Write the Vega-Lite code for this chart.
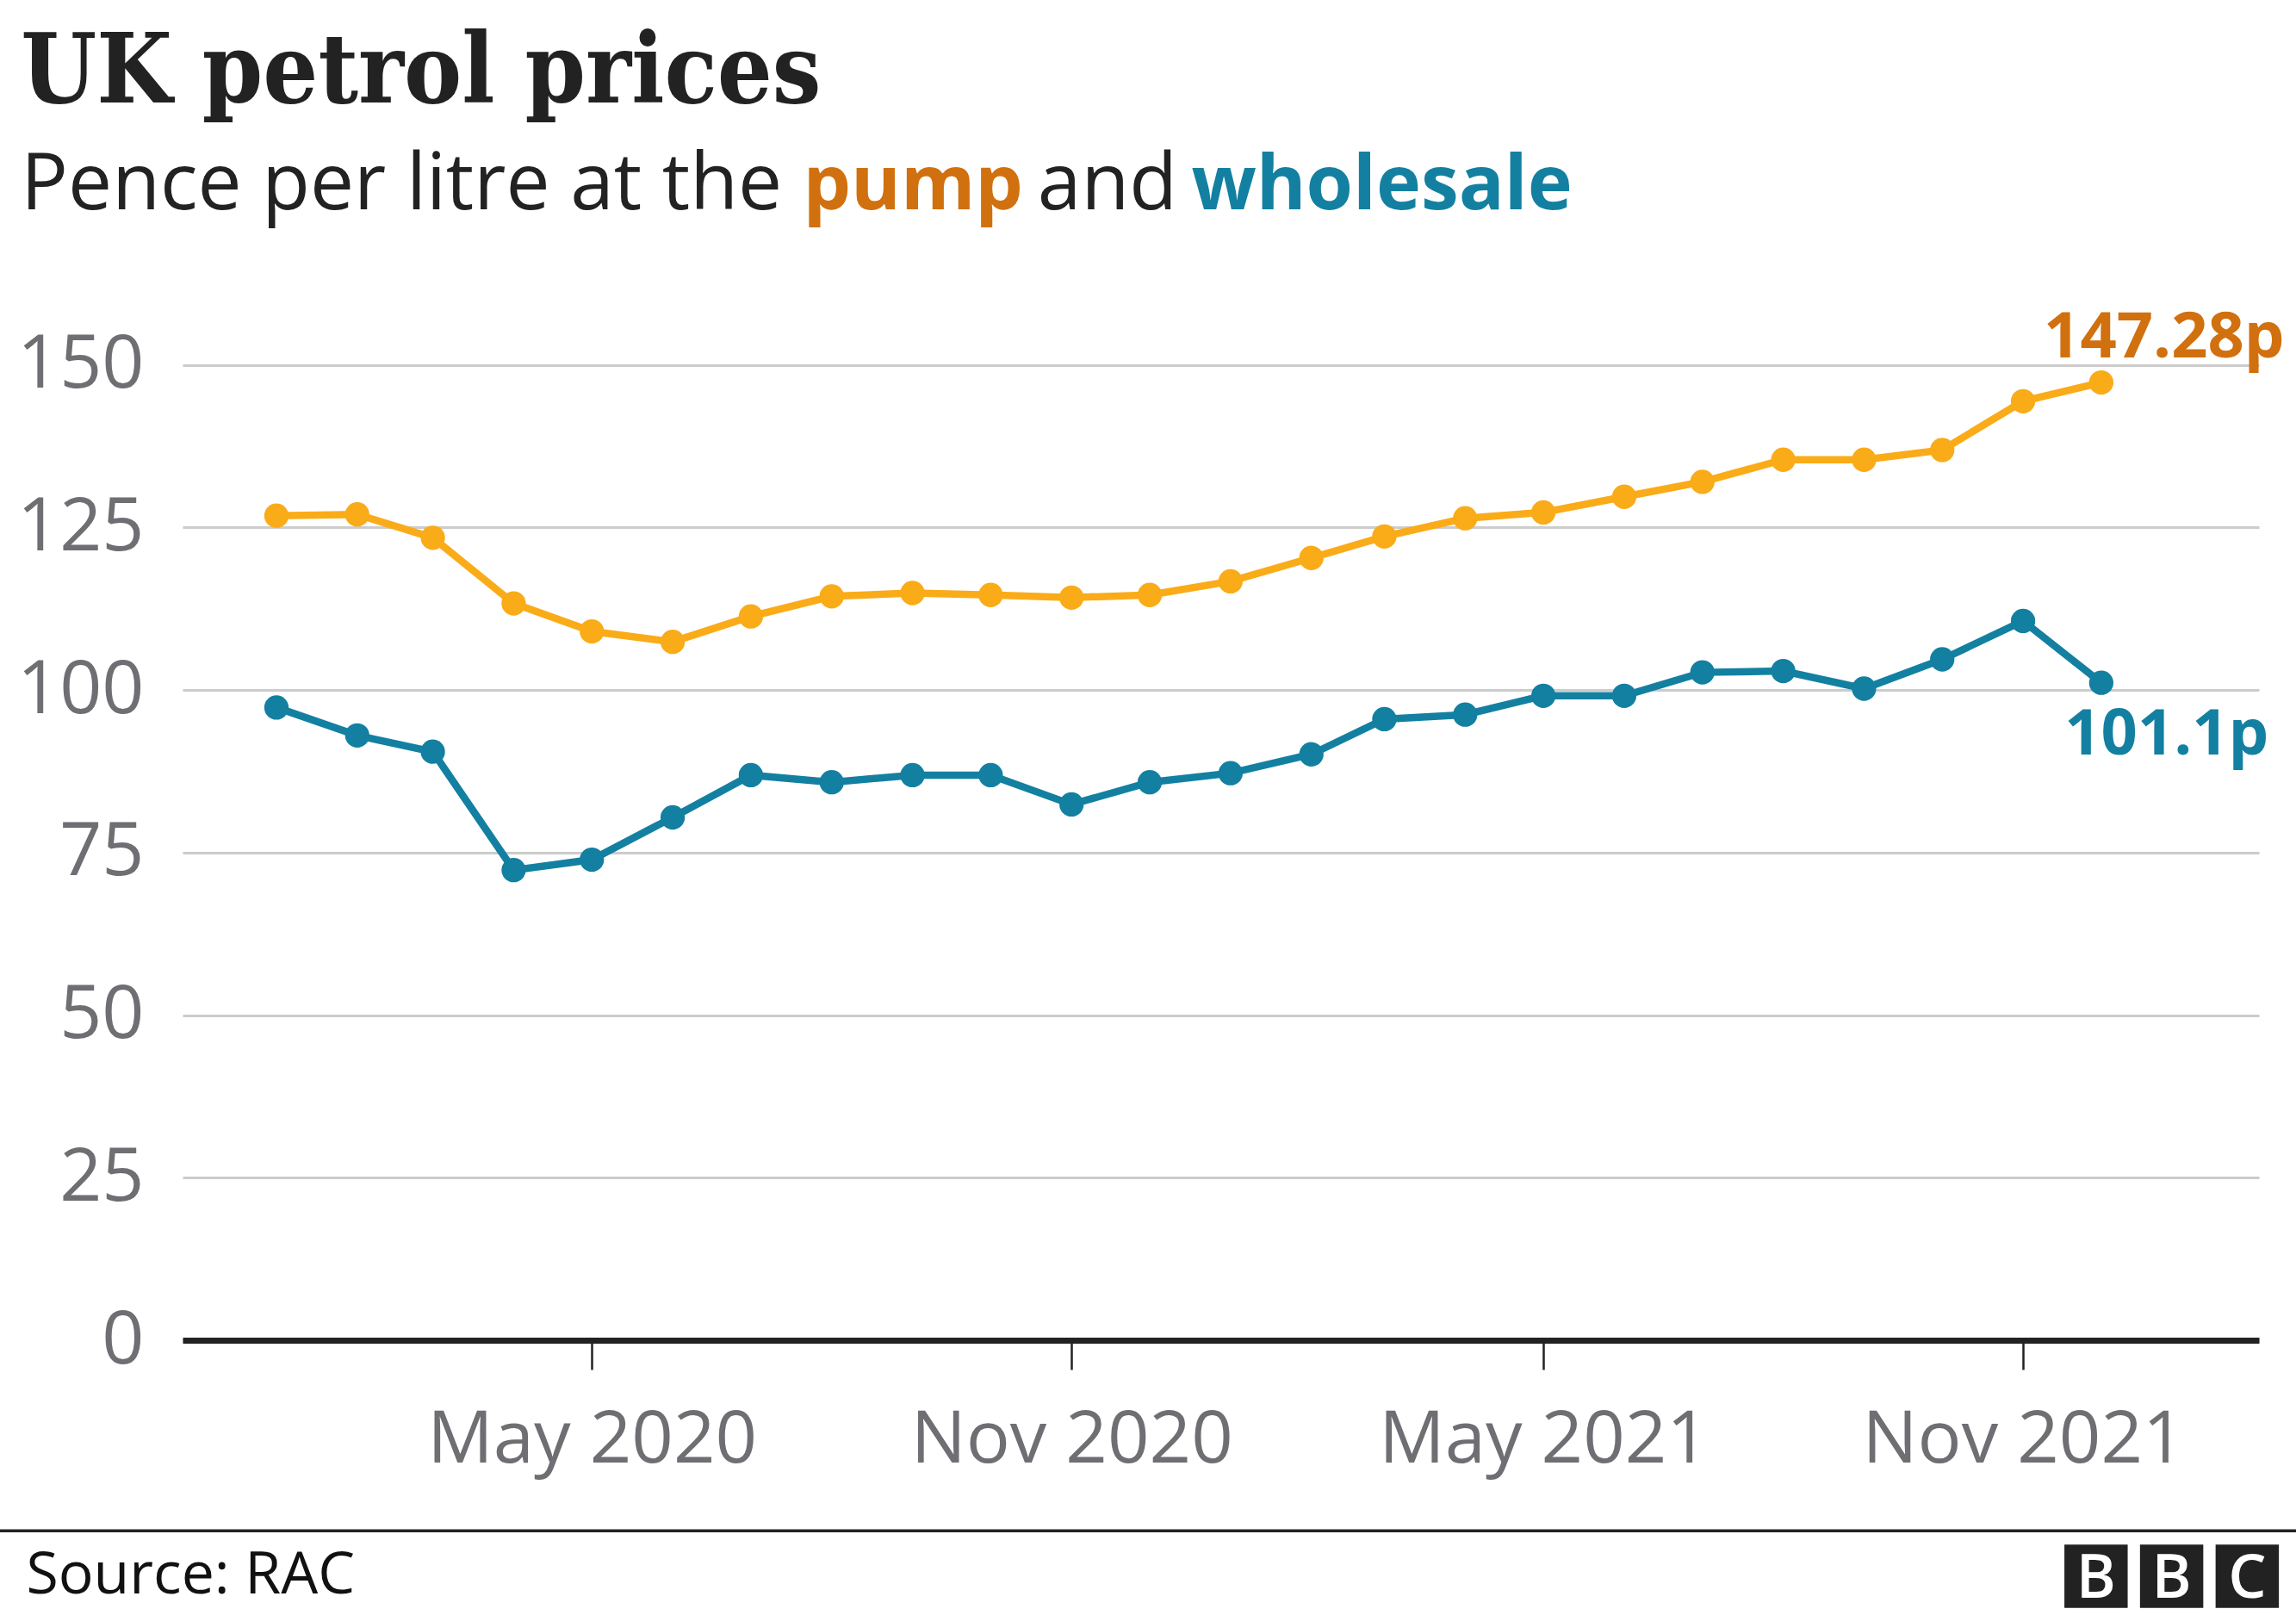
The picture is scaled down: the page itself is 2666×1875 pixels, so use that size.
{
  "$schema": "https://vega.github.io/schema/vega-lite/v6.json",
  "width": 2411,
  "height": 1208,
  "autosize": {"type": "none"},
  "padding": {"left": 212, "top": 348, "right": 43, "bottom": 319},
  "background": "white",
  "config": {"view": {"stroke": null}, "font": "Open Sans"},
  "datasets": {
    "prices": [
      {"month": "2020-01-01", "series": "pump", "price": 126.8},
      {"month": "2020-02-01", "series": "pump", "price": 127.0},
      {"month": "2020-03-01", "series": "pump", "price": 123.4},
      {"month": "2020-04-01", "series": "pump", "price": 113.3},
      {"month": "2020-05-01", "series": "pump", "price": 109.0},
      {"month": "2020-06-01", "series": "pump", "price": 107.4},
      {"month": "2020-07-01", "series": "pump", "price": 111.3},
      {"month": "2020-08-01", "series": "pump", "price": 114.4},
      {"month": "2020-09-01", "series": "pump", "price": 114.9},
      {"month": "2020-10-01", "series": "pump", "price": 114.6},
      {"month": "2020-11-01", "series": "pump", "price": 114.2},
      {"month": "2020-12-01", "series": "pump", "price": 114.6},
      {"month": "2021-01-01", "series": "pump", "price": 116.7},
      {"month": "2021-02-01", "series": "pump", "price": 120.3},
      {"month": "2021-03-01", "series": "pump", "price": 123.6},
      {"month": "2021-04-01", "series": "pump", "price": 126.4},
      {"month": "2021-05-01", "series": "pump", "price": 127.3},
      {"month": "2021-06-01", "series": "pump", "price": 129.7},
      {"month": "2021-07-01", "series": "pump", "price": 132.0},
      {"month": "2021-08-01", "series": "pump", "price": 135.4},
      {"month": "2021-09-01", "series": "pump", "price": 135.4},
      {"month": "2021-10-01", "series": "pump", "price": 136.9},
      {"month": "2021-11-01", "series": "pump", "price": 144.4},
      {"month": "2021-12-01", "series": "pump", "price": 147.28, "label": "147.28p"},
      {"month": "2020-01-01", "series": "wholesale", "price": 97.3},
      {"month": "2020-02-01", "series": "wholesale", "price": 93.0},
      {"month": "2020-03-01", "series": "wholesale", "price": 90.5},
      {"month": "2020-04-01", "series": "wholesale", "price": 72.3},
      {"month": "2020-05-01", "series": "wholesale", "price": 73.9},
      {"month": "2020-06-01", "series": "wholesale", "price": 80.4},
      {"month": "2020-07-01", "series": "wholesale", "price": 86.9},
      {"month": "2020-08-01", "series": "wholesale", "price": 85.8},
      {"month": "2020-09-01", "series": "wholesale", "price": 86.9},
      {"month": "2020-10-01", "series": "wholesale", "price": 86.9},
      {"month": "2020-11-01", "series": "wholesale", "price": 82.4},
      {"month": "2020-12-01", "series": "wholesale", "price": 85.8},
      {"month": "2021-01-01", "series": "wholesale", "price": 87.2},
      {"month": "2021-02-01", "series": "wholesale", "price": 90.1},
      {"month": "2021-03-01", "series": "wholesale", "price": 95.5},
      {"month": "2021-04-01", "series": "wholesale", "price": 96.2},
      {"month": "2021-05-01", "series": "wholesale", "price": 99.1},
      {"month": "2021-06-01", "series": "wholesale", "price": 99.1},
      {"month": "2021-07-01", "series": "wholesale", "price": 102.7},
      {"month": "2021-08-01", "series": "wholesale", "price": 102.9},
      {"month": "2021-09-01", "series": "wholesale", "price": 100.2},
      {"month": "2021-10-01", "series": "wholesale", "price": 104.7},
      {"month": "2021-11-01", "series": "wholesale", "price": 110.6},
      {"month": "2021-12-01", "series": "wholesale", "price": 101.1, "label": "101.1p"}
    ]
  },
  "layer": [
    {
      "data": {"name": "prices"},
      "mark": {"type": "line", "strokeWidth": 8.5},
      "encoding": {
        "x": {
          "field": "month", "type": "temporal",
          "scale": {"type": "utc", "nice": false, "domain": [{"year": 2019, "month": 11, "date": 26, "utc": true}, {"year": 2022, "month": 1, "date": 30, "hours": 12, "utc": true}]},
          "axis": {
            "title": null,
            "values": [
              {"year": 2020, "month": 5, "date": 1, "utc": true},
              {"year": 2020, "month": 11, "date": 1, "utc": true},
              {"year": 2021, "month": 5, "date": 1, "utc": true},
              {"year": 2021, "month": 11, "date": 1, "utc": true}
            ],
            "format": "%b %Y",
            "labelFont": "Open Sans",
            "labelFontSize": 85,
            "labelColor": "#6E6E73",
            "labelPadding": 40,
            "labelLimit": 1000,
            "labelFlush": false,
            "labelOverlap": false,
            "tickColor": "#222222",
            "tickWidth": 2.5,
            "tickSize": 34,
            "domainColor": "#222222",
            "domainWidth": 7,
            "grid": false,
            "zindex": 1
          }
        },
        "y": {
          "field": "price", "type": "quantitative",
          "scale": {"domain": [0, 160], "nice": false, "zero": true},
          "axis": {
            "title": null,
            "values": [0, 25, 50, 75, 100, 125, 150],
            "labelFont": "Open Sans",
            "labelFontSize": 86,
            "labelColor": "#6E6E73",
            "labelPadding": 45,
            "domain": false,
            "ticks": false,
            "grid": true,
            "gridColor": "#CCCCCC",
            "gridWidth": 3
          }
        },
        "color": {
          "field": "series", "type": "nominal",
          "scale": {"domain": ["pump", "wholesale"], "range": ["#FAAB18", "#1380A1"]},
          "legend": null
        }
      }
    },
    {
      "data": {"name": "prices"},
      "mark": {"type": "point", "filled": true, "size": 800, "opacity": 1, "shape": "circle"},
      "encoding": {
        "x": {"field": "month", "type": "temporal"},
        "y": {"field": "price", "type": "quantitative"},
        "color": {"field": "series", "type": "nominal"}
      }
    },
    {
      "data": {"name": "prices"},
      "transform": [{"filter": "isValid(datum.label) && datum.series === 'pump'"}],
      "mark": {"type": "text", "align": "center", "baseline": "alphabetic", "dx": 73, "dy": -29, "font": "Open Sans", "fontWeight": "bold", "fontSize": 74, "color": "#D1700E"},
      "encoding": {
        "x": {"field": "month", "type": "temporal"},
        "y": {"field": "price", "type": "quantitative"},
        "text": {"field": "label"}
      }
    },
    {
      "data": {"name": "prices"},
      "transform": [{"filter": "isValid(datum.label) && datum.series === 'wholesale'"}],
      "mark": {"type": "text", "align": "center", "baseline": "alphabetic", "dx": 76, "dy": 83, "font": "Open Sans", "fontWeight": "bold", "fontSize": 74, "color": "#1380A1"},
      "encoding": {
        "x": {"field": "month", "type": "temporal"},
        "y": {"field": "price", "type": "quantitative"},
        "text": {"field": "label"}
      }
    },
    {
      "data": {"values": [{}]},
      "mark": {"type": "text", "align": "left", "baseline": "alphabetic", "font": "DejaVu Serif Condensed, DejaVu Serif", "fontWeight": "bold", "fontSize": 112, "color": "#222222", "text": "UK petrol prices"},
      "encoding": {
        "x": {"datum": {"year": 2019, "month": 9, "date": 25, "utc": true}, "type": "temporal"},
        "y": {"datum": 190.3, "type": "quantitative"}
      }
    },
    {
      "data": {"values": [{}]},
      "mark": {"type": "text", "align": "left", "baseline": "alphabetic", "font": "Open Sans", "fontSize": 91, "color": "#222222", "text": "Pence per litre at the"},
      "encoding": {
        "x": {"datum": {"year": 2019, "month": 9, "date": 25, "utc": true}, "type": "temporal"},
        "y": {"datum": 173.9, "type": "quantitative"}
      }
    },
    {
      "data": {"values": [{}]},
      "mark": {"type": "text", "align": "left", "baseline": "alphabetic", "font": "Open Sans", "fontWeight": "bold", "fontSize": 88, "color": "#D1700E", "text": "pump"},
      "encoding": {
        "x": {"datum": {"year": 2020, "month": 7, "date": 21, "utc": true}, "type": "temporal"},
        "y": {"datum": 173.9, "type": "quantitative"}
      }
    },
    {
      "data": {"values": [{}]},
      "mark": {"type": "text", "align": "left", "baseline": "alphabetic", "font": "Open Sans", "fontSize": 91, "color": "#222222", "text": "and"},
      "encoding": {
        "x": {"datum": {"year": 2020, "month": 10, "date": 19, "utc": true}, "type": "temporal"},
        "y": {"datum": 173.9, "type": "quantitative"}
      }
    },
    {
      "data": {"values": [{}]},
      "mark": {"type": "text", "align": "left", "baseline": "alphabetic", "font": "Open Sans", "fontWeight": "bold", "fontSize": 88, "color": "#1380A1", "text": "wholesale"},
      "encoding": {
        "x": {"datum": {"year": 2020, "month": 12, "date": 17, "utc": true}, "type": "temporal"},
        "y": {"datum": 173.9, "type": "quantitative"}
      }
    },
    {
      "data": {"values": [{}]},
      "mark": {"type": "rule", "color": "#222222", "strokeWidth": 3.5},
      "encoding": {
        "x": {"datum": {"year": 2019, "month": 9, "date": 15, "utc": true}, "type": "temporal"},
        "x2": {"datum": {"year": 2022, "month": 2, "date": 16, "utc": true}},
        "y": {"datum": -29.3, "type": "quantitative"}
      }
    },
    {
      "data": {"values": [{}]},
      "mark": {"type": "text", "align": "left", "baseline": "alphabetic", "font": "Open Sans", "fontSize": 68, "color": "#111111", "text": "Source: RAC"},
      "encoding": {
        "x": {"datum": {"year": 2019, "month": 9, "date": 27, "utc": true}, "type": "temporal"},
        "y": {"datum": -38.97, "type": "quantitative"}
      }
    },
    {
      "data": {"values": [{}]},
      "layer": [
        {"mark": {"type": "point", "shape": "square", "filled": true, "size": 5400, "color": "#222222", "opacity": 1},
         "encoding": {"x": {"datum": {"year": 2021, "month": 11, "date": 29, "utc": true}, "type": "temporal"}, "y": {"datum": -36.3, "type": "quantitative"}}},
        {"mark": {"type": "text", "align": "center", "baseline": "middle", "dy": 4, "font": "Open Sans", "fontWeight": 600, "fontSize": 70, "color": "white", "text": "B"},
         "encoding": {"x": {"datum": {"year": 2021, "month": 11, "date": 29, "utc": true}, "type": "temporal"}, "y": {"datum": -36.3, "type": "quantitative"}}},
        {"mark": {"type": "point", "shape": "square", "filled": true, "size": 5400, "color": "#222222", "opacity": 1},
         "encoding": {"x": {"datum": {"year": 2021, "month": 12, "date": 28, "utc": true}, "type": "temporal"}, "y": {"datum": -36.3, "type": "quantitative"}}},
        {"mark": {"type": "text", "align": "center", "baseline": "middle", "dy": 4, "font": "Open Sans", "fontWeight": 600, "fontSize": 70, "color": "white", "text": "B"},
         "encoding": {"x": {"datum": {"year": 2021, "month": 12, "date": 28, "utc": true}, "type": "temporal"}, "y": {"datum": -36.3, "type": "quantitative"}}},
        {"mark": {"type": "point", "shape": "square", "filled": true, "size": 5400, "color": "#222222", "opacity": 1},
         "encoding": {"x": {"datum": {"year": 2022, "month": 1, "date": 26, "utc": true}, "type": "temporal"}, "y": {"datum": -36.3, "type": "quantitative"}}},
        {"mark": {"type": "text", "align": "center", "baseline": "middle", "dy": 4, "font": "Open Sans", "fontWeight": 600, "fontSize": 70, "color": "white", "text": "C"},
         "encoding": {"x": {"datum": {"year": 2022, "month": 1, "date": 26, "utc": true}, "type": "temporal"}, "y": {"datum": -36.3, "type": "quantitative"}}}
      ]
    }
  ]
}
